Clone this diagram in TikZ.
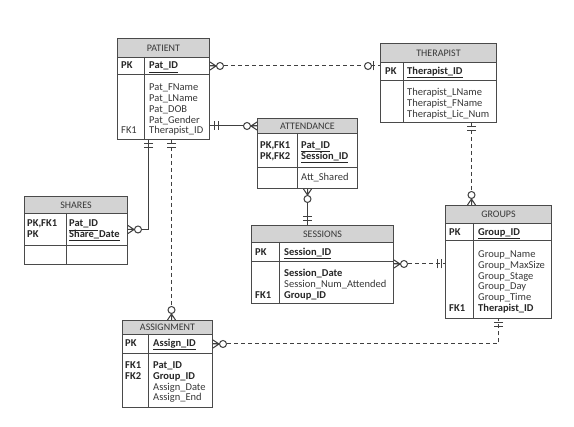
\documentclass[tikz,border=0pt]{standalone}
\usepackage{fontspec}
\setmainfont{Carlito}
\usepackage{xcolor}

\definecolor{hdrgray}{HTML}{D3D3D3}
\definecolor{boxline}{HTML}{4A4A4A}
\definecolor{txtgray}{HTML}{383838}

\tikzset{
  box/.style = {draw = boxline, line width = 1pt, inner sep = 0pt, anchor = north west},
  hdr/.style = {box, fill = hdrgray, text = txtgray, font = \fontsize{10}{11}\selectfont},
  sep/.style = {draw = boxline, line width = 1pt},
  fld/.style = {anchor = base west, inner sep = 0pt, text = txtgray, font = \fontsize{10.5}{11}\selectfont},
  key/.style = {fld, text = black!85, font = \fontsize{10.5}{11}\selectfont\bfseries},
  rel/.style = {draw = black!75, line width = 1pt},
  dsh/.style = {dash pattern = on 4pt off 3pt},
  zmany/.pic = {
    \draw[rel, solid] (0,-4) -- (6,0) -- (0,4) (0,0) -- (6,0);
    \draw[rel, solid, fill = white] (10,0) circle (3.5pt);
  },
  zone/.pic = {
    \draw[rel, solid] (7,-4.5) -- (7,4.5);
    \draw[rel, solid, fill = white] (12,0) circle (3.5pt);
  },
  oneone/.pic = {
    \draw[rel, solid] (4,-4.5) -- (4,4.5) (8,-4.5) -- (8,4.5);
  },
}

\begin{document}
\begin{tikzpicture}[x = 1pt, y = -1pt]
	\fill[white] (0,0) rectangle (574,427);
	\useasboundingbox (0,0) rectangle (574,427);

	% PATIENT
	\node[hdr, minimum width = 92pt, minimum height = 19pt] (patient) at (117,38) {PATIENT};
	\node[box, minimum width = 92pt, minimum height = 17pt] (patient-pk) at (117,57) {};
	\node[box, minimum width = 92pt, minimum height = 65pt] (patient-at) at (117,74) {};
	\draw[sep] (144,57) -- (144,139);
	\node[key] (patient-k) at (121,69) {PK};
	\node[key] (patient-id) at (149,69) {\underline{Pat\_ID}};
	\foreach \t [count = \i] in {Pat\_FName, Pat\_LName, Pat\_DOB, Pat\_Gender, Therapist\_ID}
		\node[fld] (patient-a\i) at (149,80+10.8*\i) {\t};
	\node[fld] (patient-fk) at (121,134) {FK1};

	% THERAPIST
	\node[hdr, minimum width = 116pt, minimum height = 19pt] (therapist) at (380,43) {THERAPIST};
	\node[box, minimum width = 116pt, minimum height = 18pt] (therapist-pk) at (380,62) {};
	\node[box, minimum width = 116pt, minimum height = 42pt] (therapist-at) at (380,80) {};
	\draw[sep] (403,62) -- (403,122);
	\node[key] (therapist-k) at (385,74.5) {PK};
	\node[key] (therapist-id) at (407,74.5) {\underline{Therapist\_ID}};
	\foreach \t [count = \i] in {Therapist\_LName, Therapist\_FName, Therapist\_Lic\_Num}
		\node[fld] (therapist-a\i) at (407,84.7+10.8*\i) {\t};

	% ATTENDANCE
	\node[hdr, minimum width = 100pt, minimum height = 15pt] (attendance) at (257,118) {ATTENDANCE};
	\node[box, minimum width = 100pt, minimum height = 34pt] (attendance-pk) at (257,133) {};
	\node[box, minimum width = 100pt, minimum height = 21pt] (attendance-at) at (257,167) {};
	\draw[sep] (297,133) -- (297,188);
	\node[key] (attendance-k1) at (260,148.5) {PK,FK1};
	\node[key] (attendance-k2) at (260,159.3) {PK,FK2};
	\node[key] (attendance-id1) at (301,148.5) {\underline{Pat\_ID}};
	\node[key] (attendance-id2) at (301,159.3) {\underline{Session\_ID}};
	\node[fld] (attendance-a1) at (301,180.5) {Att\_Shared};

	% SHARES
	\node[hdr, minimum width = 103pt, minimum height = 17pt] (shares) at (24,196) {SHARES};
	\node[box, minimum width = 103pt, minimum height = 32pt] (shares-pk) at (24,213) {};
	\node[box, minimum width = 103pt, minimum height = 19pt] (shares-at) at (24,245) {};
	\draw[sep] (66,213) -- (66,264);
	\node[key] (shares-k1) at (27,227) {PK,FK1};
	\node[key] (shares-k2) at (27,237.8) {PK};
	\node[key] (shares-id1) at (69,227) {\underline{Pat\_ID}};
	\node[key] (shares-id2) at (69,237.8) {\underline{Share\_Date}};

	% SESSIONS
	\node[hdr, minimum width = 142pt, minimum height = 17pt] (sessions) at (251,225) {SESSIONS};
	\node[box, minimum width = 142pt, minimum height = 19pt] (sessions-pk) at (251,242) {};
	\node[box, minimum width = 142pt, minimum height = 42pt] (sessions-at) at (251,261) {};
	\draw[sep] (279,242) -- (279,303);
	\node[key] (sessions-k) at (255,255.5) {PK};
	\node[key] (sessions-id) at (284,255.5) {\underline{Session\_ID}};
	\node[key] (sessions-a1) at (284,276.5) {Session\_Date};
	\node[fld] (sessions-a2) at (284,287.3) {Session\_Num\_Attended};
	\node[key] (sessions-a3) at (284,298.1) {Group\_ID};
	\node[key] (sessions-fk) at (255,298.1) {FK1};

	% GROUPS
	\node[hdr, minimum width = 106pt, minimum height = 18pt] (groups) at (445,205) {GROUPS};
	\node[box, minimum width = 106pt, minimum height = 17pt] (groups-pk) at (445,223) {};
	\node[box, minimum width = 106pt, minimum height = 78pt] (groups-at) at (445,240) {};
	\draw[sep] (473,223) -- (473,318);
	\node[key] (groups-k) at (449,235.5) {PK};
	\node[key] (groups-id) at (478,235.5) {\underline{Group\_ID}};
	\foreach \t [count = \i] in {Group\_Name, Group\_MaxSize, Group\_Stage, Group\_Day, Group\_Time}
		\node[fld] (groups-a\i) at (478,246.7+10.8*\i) {\t};
	\node[key] (groups-a6) at (478,311.5) {Therapist\_ID};
	\node[key] (groups-fk) at (449,311.5) {FK1};

	% ASSIGNMENT
	\node[hdr, minimum width = 90pt, minimum height = 14pt] (assignment) at (122,320) {ASSIGNMENT};
	\node[box, minimum width = 90pt, minimum height = 19pt] (assignment-pk) at (122,334) {};
	\node[box, minimum width = 90pt, minimum height = 54pt] (assignment-at) at (122,353) {};
	\draw[sep] (148,334) -- (148,407);
	\node[key] (assignment-k) at (125,346.5) {PK};
	\node[key] (assignment-id) at (153,346.5) {\underline{Assign\_ID}};
	\node[key] (assignment-fk1) at (125,368.5) {FK1};
	\node[key] (assignment-fk2) at (125,379.3) {FK2};
	\node[key] (assignment-a1) at (153,368.5) {Pat\_ID};
	\node[key] (assignment-a2) at (153,379.3) {Group\_ID};
	\node[fld] (assignment-a3) at (153,390.1) {Assign\_Date};
	\node[fld] (assignment-a4) at (153,400.9) {Assign\_End};

	% relationships
	\draw[rel, dsh] (patient-pk.east) pic {zmany}
		-- (patient-pk.east -| therapist-pk.west) pic[rotate = 180] {zone};
	\draw[rel] (patient-at.east |- attendance.west) pic {oneone}
		-- (attendance.west) pic[rotate = 180] {zmany};
	\draw[rel] (attendance-at.south) pic[rotate = -90] {zmany}
		-- (attendance-at.south |- sessions.north) pic[rotate = 90] {oneone};
	\draw[rel] ([xshift = -15pt]patient-at.south) pic[rotate = -90] {oneone}
		|- (shares-pk.east) pic {zmany};
	\draw[rel, dsh] ([xshift = 8pt]patient-at.south) pic[rotate = -90] {oneone}
		-- ([xshift = 8pt]patient-at.south |- assignment.north) pic[rotate = 90] {zmany};
	\draw[rel, dsh] ([yshift = -3pt]sessions-at.north east) pic {zmany}
		-- ([yshift = -3pt]sessions-at.north east -| groups-at.west) pic[rotate = 180] {oneone};
	\draw[rel, dsh] ([xshift = 33pt]therapist-at.south) pic[rotate = -90] {oneone}
		-- ([xshift = 33pt]therapist-at.south |- groups.north) pic[rotate = 90] {zmany};
	\draw[rel, dsh] (assignment-pk.east) pic {zmany}
		-| (groups-at.south) pic[rotate = -90] {oneone};
\end{tikzpicture}
\end{document}
